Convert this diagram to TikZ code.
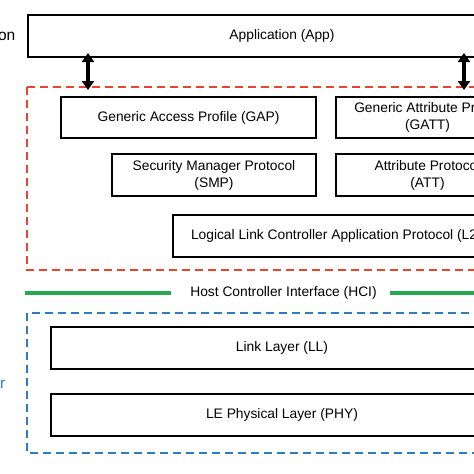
\documentclass[tikz,border=0pt]{standalone}
\usepackage{fontspec}
\setmainfont{Liberation Sans}
\usetikzlibrary{arrows.meta}

\definecolor{hostred}{RGB}{232,68,46}
\definecolor{ctrlblue}{RGB}{44,124,190}
\definecolor{hcigreen}{RGB}{38,168,78}

\tikzset{
  layer/.style={draw,line width=2pt,minimum height=42pt,inner sep=0pt,
    align=center,font=\fontsize{13.8}{17}\selectfont},
  lbl/.style={inner sep=0pt,font=\fontsize{13.8}{17}\selectfont},
  sidelbl/.style={inner sep=0pt,font=\fontsize{15.5}{18}\selectfont},
  region/.style={line width=2pt,dash pattern=on 8pt off 5pt},
  dblarrow/.style={line width=3.8pt,{Triangle[length=9pt,width=12pt]}-{Triangle[length=9pt,width=12pt]}}
}

\begin{document}
\begin{tikzpicture}[x=1pt,y=-1pt]
        \useasboundingbox (0,0) rectangle (474,474);
        \clip (0,0) rectangle (474,474);

        % host and controller regions
        \draw[region,hostred] (27,87) rectangle (537,270);
        \draw[region,ctrlblue] (27,313) rectangle (537,453);

        % side labels
        \node[sidelbl,anchor=east] (applbl) at (15.5,36) {Application};
        \node[sidelbl,anchor=east,text=ctrlblue] (ctrllbl) at (5.5,383) {Controller};

        % stack
        \node[layer,minimum width=508pt] (app) at (282,36) {Application (App)};
        \node[layer,minimum width=255pt,minimum height=41pt] (gap) at (188.5,117.5) {Generic Access Profile (GAP)};
        \node[layer,minimum width=184pt,minimum height=41pt] (gatt) at (427.5,117.5) {Generic Attribute Profile\\(GATT)};
        \node[layer,minimum width=204pt] (smp) at (214,175) {Security Manager Protocol\\(SMP)};
        \node[layer,minimum width=184pt] (att) at (427.5,175) {Attribute Protocol\\(ATT)};
        \node[layer,inner xsep=18pt,anchor=west] (l2cap) at (172,236) {Logical Link Controller Application Protocol (L2CAP)};
        \node[layer,minimum width=462pt] (ll) at (282,348) {Link Layer (LL)};
        \node[layer,minimum width=462pt] (phy) at (282,415) {LE Physical Layer (PHY)};

        % host controller interface
        \node[lbl] (hci) at (283.5,293) {Host Controller Interface (HCI)};
        \draw[hcigreen,line width=4pt] (25,293) -- ([xshift=-19pt]hci.west);
        \draw[hcigreen,line width=4pt] ([xshift=13pt]hci.east) -- (540,293);

        % app to host
        \coordinate (gapin) at (88,90);
        \coordinate (gattin) at (464,90);
        \draw[dblarrow] ([yshift=5pt]app.south -| gapin) -- (gapin);
        \draw[dblarrow] ([yshift=5pt]app.south -| gattin) -- (gattin);
      \end{tikzpicture}
\end{document}
